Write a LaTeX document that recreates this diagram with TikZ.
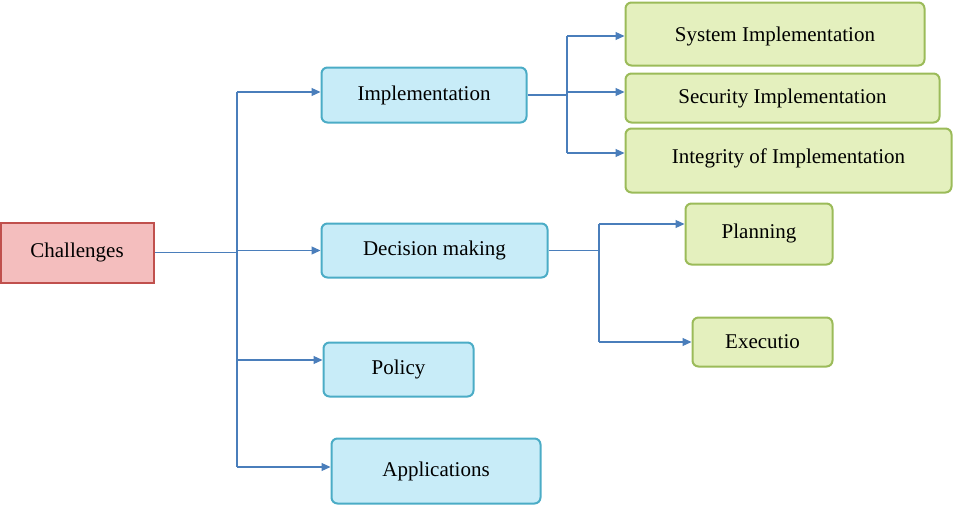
\documentclass[tikz,border=0pt]{standalone}
\usepackage{fontspec}
\setmainfont{Liberation Serif}
\usetikzlibrary{arrows.meta}
\definecolor{bluefill}{RGB}{200,236,248}
\definecolor{blueedge}{RGB}{75,172,198}
\definecolor{greenfill}{RGB}{228,240,190}
\definecolor{greenedge}{RGB}{155,187,89}
\definecolor{redfill}{RGB}{244,190,190}
\definecolor{rededge}{RGB}{192,80,77}
\definecolor{lineblue}{RGB}{74,126,187}
\begin{document}
\begin{tikzpicture}[x=1pt,y=-1pt,
  box/.style={draw,line width=2pt,rounded corners=6pt,font=\fontsize{21}{24}\selectfont},
  blue/.style={box,fill=bluefill,draw=blueedge},
  green/.style={box,fill=greenfill,draw=greenedge},
  red/.style={draw=rededge,line width=2pt,fill=redfill,font=\fontsize{21}{24}\selectfont},
  conn/.style={lineblue,line width=1.2pt},
  arr/.style={conn,-{Triangle[length=9pt,width=8pt]}}]
\useasboundingbox (0,0) rectangle (953,506);
\newcommand\bx[6]{\path[#1] (#2,#3) rectangle (#4,#5); \node[font=\fontsize{21}{24}\selectfont] at ({(#2+#4)/2},{(#3+#5)/2}) {#6};}
\node[red,minimum width=153pt,minimum height=60pt] (ch) at (77,252.5) {Challenges};
\node[blue,minimum width=205pt,minimum height=55pt] (imp) at (424,95) {Implementation};
\node[blue,minimum width=226pt,minimum height=54pt] (dec) at (434.5,250.5) {Decision making};
\node[blue,minimum width=150pt,minimum height=54pt] (pol) at (398.5,369.5) {Policy};
\node[blue,minimum width=209pt,minimum height=65pt] (app) at (436,471) {Applications};
\node[green,minimum width=299pt,minimum height=63pt,text depth=0pt] (sys) at (775,34) {System Implementation\vphantom{g}\raisebox{0pt}[0pt][12pt]{}};
\node[green,minimum width=314pt,minimum height=49pt] (sec) at (782.5,98) {Security Implementation};
\node[green,minimum width=326pt,minimum height=64pt] (int) at (788.5,160.5) {\raisebox{8pt}{Integrity of Implementation}};
\node[green,minimum width=147pt,minimum height=61pt] (pla) at (759,234) {\raisebox{6pt}{Planning}};
\node[green,minimum width=140pt,minimum height=49pt] (exe) at (762.5,342) {Executio};
\coordinate (t1) at (237,92);
\coordinate (t2) at (237,467);
\coordinate (r1) at (567,36);
\coordinate (r2) at (567,153);
\coordinate (q1) at (599,224);
\coordinate (q2) at (599,342);
\draw[conn] (ch.east) -- (237,252.5);
\draw[conn] (t1) -- (t2);
\draw[arr] (t1) -- (t1 -| imp.west);
\draw[arr] (237,250.5) -- (dec.west);
\draw[arr] (237,360) -- (237,360 -| pol.west);
\draw[arr] (t2) -- (t2 -| app.west);
\draw[conn] (imp.east) -- (567,95);
\draw[conn] (r1) -- (r2);
\draw[arr] (r1) -- (r1 -| sys.west);
\draw[arr] (567,92) -- (567,92 -| sec.west);
\draw[arr] (r2) -- (r2 -| int.west);
\draw[conn] (dec.east) -- (599,250.5);
\draw[conn] (q1) -- (q2);
\draw[arr] (q1) -- (q1 -| pla.west);
\draw[arr] (q2) -- (exe.west);
\end{tikzpicture}
\end{document}
